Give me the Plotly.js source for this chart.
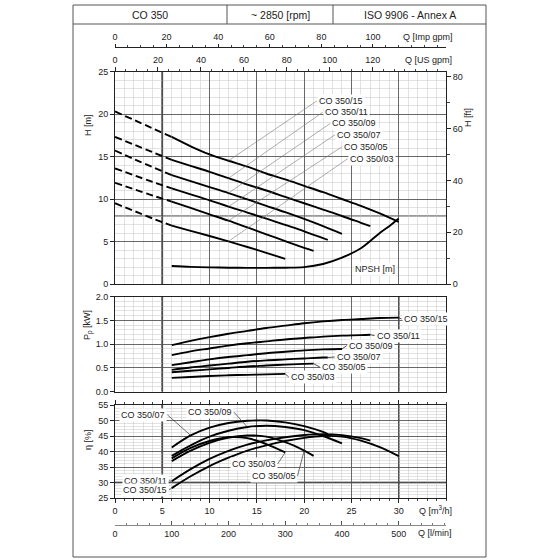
<!DOCTYPE html>
<html>
<head>
<meta charset="utf-8">
<script src="https://cdn.plot.ly/plotly-3.0.1.min.js"></script>
<style>html,body{margin:0;padding:0;background:#fff;}#chart{width:560px;height:560px;}</style>
</head>
<body>
<div id="chart"></div>
<script>
// ---------------- DATA ----------------
const MODELS = ['CO 350/03', 'CO 350/05', 'CO 350/07', 'CO 350/09', 'CO 350/11', 'CO 350/15'];

// Head curves: dashed part near shut-off (Q in m3/h)
const Q_DASH = [0, 2, 4, 6];
const H03_DASH = [9.5, 8.6, 7.7, 6.86];
const H05_DASH = [11.9, 11.15, 10.4, 9.7];
const H07_DASH = [13.6, 12.8, 12.0, 11.25];
const H09_DASH = [15.7, 14.7, 13.75, 12.8];
const H11_DASH = [17.3, 16.4, 15.5, 14.6];
const H15_DASH = [20.3, 19.3, 18.3, 17.3];

// Operating ranges (Q in m3/h)
const Q03 = [6, 8, 10, 12, 14, 16, 18];
const Q05 = [6, 8, 10, 12, 14, 16, 18, 20, 21];
const Q07 = [6, 8, 10, 12, 14, 16, 18, 20, 22, 22.5];
const Q09 = [6, 8, 10, 12, 14, 16, 18, 20, 22, 24];
const Q11 = [6, 8, 10, 12, 14, 16, 18, 20, 22, 24, 26, 27];
const Q15 = [6, 8, 10, 12, 14, 16, 18, 20, 22, 24, 26, 28, 30];

// Head H [m]
const H03 = [6.86, 6.25, 5.65, 5.02, 4.35, 3.67, 2.96];
const H05 = [9.7, 8.95, 8.2, 7.45, 6.65, 5.85, 5.05, 4.25, 3.9];
const H07 = [11.25, 10.55, 9.85, 9.1, 8.4, 7.7, 6.95, 6.2, 5.4, 5.18];
const H09 = [12.8, 12.1, 11.4, 10.7, 9.95, 9.2, 8.45, 7.65, 6.8, 5.9];
const H11 = [14.6, 13.9, 13.2, 12.45, 11.7, 11.0, 10.25, 9.5, 8.75, 8.0, 7.2, 6.8];
const H15 = [17.3, 16.2, 15.25, 14.5, 13.8, 13.0, 12.3, 11.55, 10.8, 10.0, 9.2, 8.3, 7.3];

// NPSH [m]
const Q_NPSH = [6, 8, 10, 12, 14, 16, 18, 20, 22, 24, 26, 28, 29, 30];
const NPSH = [2.12, 2.02, 1.96, 1.92, 1.9, 1.9, 1.92, 1.98, 2.35, 3.1, 4.2, 6.0, 6.8, 7.7];

// Power Pp [kW]
const P03 = [0.29, 0.31, 0.33, 0.345, 0.355, 0.365, 0.375];
const P05 = [0.41, 0.44, 0.47, 0.50, 0.53, 0.55, 0.57, 0.585, 0.59];
const P07 = [0.46, 0.51, 0.55, 0.59, 0.63, 0.66, 0.68, 0.70, 0.72, 0.72];
const P09 = [0.56, 0.62, 0.68, 0.73, 0.77, 0.81, 0.84, 0.87, 0.89, 0.90];
const P11 = [0.77, 0.85, 0.91, 0.97, 1.02, 1.06, 1.10, 1.13, 1.16, 1.18, 1.19, 1.20];
const P15 = [0.98, 1.07, 1.15, 1.22, 1.28, 1.34, 1.39, 1.44, 1.48, 1.51, 1.53, 1.55, 1.56];

// Efficiency eta [%]
const E03 = [37.8, 41.2, 43.4, 44.6, 44.3, 42.4, 39.7];
const E05 = [36.9, 40.3, 42.8, 44.5, 45.2, 44.8, 43.0, 40.3, 38.6];
const E07 = [41.3, 45.2, 47.7, 49.2, 49.9, 50.0, 49.4, 48.2, 46.3, 45.6];
const E09 = [38.6, 42.0, 44.8, 46.7, 47.9, 48.3, 47.9, 46.9, 45.0, 42.6];
const E11 = [30.4, 34.3, 37.6, 40.2, 42.2, 43.6, 44.6, 45.3, 45.6, 45.3, 44.3, 43.5];
const E15 = [28.2, 32.0, 35.3, 38.0, 40.3, 42.0, 43.4, 44.4, 45.0, 44.8, 43.5, 41.4, 38.5];

// Axis ticks
const Q_TICKS = [0, 5, 10, 15, 20, 25, 30];
const USGPM_TICKS = [0, 20, 40, 60, 80, 100, 120];
const IMPGPM_TICKS = [0, 20, 40, 60, 80, 100];
const LMIN_TICKS = [0, 100, 200, 300, 400, 500];
const H_TICKS = [0, 5, 10, 15, 20, 25];
const FT_TICKS = [0, 20, 40, 60, 80];
const P_TICKS = [0, 0.5, 1.0, 1.5, 2.0];
const E_TICKS = [25, 30, 35, 40, 45, 50, 55];

// unit conversions
const M3H_TO_USGPM = 4.40287, M3H_TO_IMPGPM = 3.66615, M3H_TO_LMIN = 1000 / 60, M_TO_FT = 3.28084;
const Q_MAX = 35;

// ---------------- LAYOUT HELPERS ----------------
const W = 560, HGT = 560;
const px = v => v / W;
const py = v => 1 - v / HGT;
const FONT = 'Liberation Sans, Arial, Helvetica, sans-serif';
const TXT = '#222';

const series = [
  {name: MODELS[0], q: Q03, h: H03, hd: H03_DASH, p: P03, e: E03},
  {name: MODELS[1], q: Q05, h: H05, hd: H05_DASH, p: P05, e: E05},
  {name: MODELS[2], q: Q07, h: H07, hd: H07_DASH, p: P07, e: E07},
  {name: MODELS[3], q: Q09, h: H09, hd: H09_DASH, p: P09, e: E09},
  {name: MODELS[4], q: Q11, h: H11, hd: H11_DASH, p: P11, e: E11},
  {name: MODELS[5], q: Q15, h: H15, hd: H15_DASH, p: P15, e: E15}
];
function at(q, v, qq) { const i = q.indexOf(qq); return v[i]; }
function last(a) { return a[a.length - 1]; }

const LW = 1.9;
const traces = [];
series.forEach(s => {
  traces.push({x: Q_DASH, y: s.hd, xaxis: 'x', yaxis: 'y', mode: 'lines', line: {color: '#000', width: LW, dash: '7px,4px', shape: 'spline'}, hoverinfo: 'skip'});
  traces.push({x: s.q, y: s.h, xaxis: 'x', yaxis: 'y', mode: 'lines', line: {color: '#000', width: LW, shape: 'spline'}, hoverinfo: 'skip'});
  traces.push({x: s.q, y: s.p, xaxis: 'x', yaxis: 'y2', mode: 'lines', line: {color: '#000', width: LW, shape: 'spline'}, hoverinfo: 'skip'});
  traces.push({x: s.q, y: s.e, xaxis: 'x', yaxis: 'y3', mode: 'lines', line: {color: '#000', width: LW, shape: 'spline'}, hoverinfo: 'skip'});
});
traces.push({x: Q_NPSH, y: NPSH, xaxis: 'x', yaxis: 'y', mode: 'lines', line: {color: '#000', width: LW, shape: 'spline'}, hoverinfo: 'skip'});
// carriers for the secondary axes
traces.push({x: [null], y: [null], xaxis: 'x2', yaxis: 'y', mode: 'lines', hoverinfo: 'skip'});
traces.push({x: [null], y: [null], xaxis: 'x3', yaxis: 'y', mode: 'lines', hoverinfo: 'skip'});
traces.push({x: [null], y: [null], xaxis: 'x4', yaxis: 'y3', mode: 'lines', hoverinfo: 'skip'});
traces.push({x: [null], y: [null], xaxis: 'x', yaxis: 'y4', mode: 'lines', hoverinfo: 'skip'});

const X_DOM = [px(115), px(446)];
const DOM_H = [py(284), py(71.5)];
const DOM_P = [py(391.7), py(296.7)];
const DOM_E = [py(498), py(405)];

const MAJ = '#4a4a4a', MIN = '#c6c6c6';
const tickF = {family: FONT, size: 9, color: TXT};

function yAx(dom, range, tickvals, minorD, fmt) {
  return {domain: dom, range: range, anchor: 'x', tickmode: 'array', tickvals: tickvals,
    tickformat: fmt || '', ticks: 'outside', ticklen: 4, tickcolor: '#222', tickfont: tickF,
    showline: true, linecolor: '#222', linewidth: 1, mirror: true, zeroline: false,
    showgrid: true, gridcolor: MAJ, gridwidth: 0.8,
    minor: {tickmode: 'linear', tick0: 0, dtick: minorD, showgrid: true, gridcolor: MIN, gridwidth: 0.5}, fixedrange: true};
}

const layout = {
  width: W, height: HGT, margin: {l: 0, r: 0, t: 0, b: 0},
  paper_bgcolor: '#fff', plot_bgcolor: '#fff', showlegend: false,
  font: {family: FONT, size: 9, color: TXT},
  xaxis: {domain: X_DOM, range: [0, Q_MAX], anchor: 'y3', tickmode: 'array', tickvals: Q_TICKS,
    ticks: 'outside', ticklen: 4, tickcolor: '#222', tickfont: tickF,
    showline: true, linecolor: '#222', linewidth: 1, mirror: 'all', zeroline: false,
    showgrid: true, gridcolor: MAJ, gridwidth: 0.8,
    minor: {tickmode: 'linear', tick0: 0, dtick: 1, showgrid: true, gridcolor: MIN, gridwidth: 0.5, ticks: 'outside', ticklen: 2, tickcolor: '#444'}, fixedrange: true},
  xaxis2: {overlaying: 'x', anchor: 'y', side: 'top', range: [0, Q_MAX * M3H_TO_USGPM], tickmode: 'array', tickvals: USGPM_TICKS,
    ticks: 'outside', ticklen: 4, tickcolor: '#222', tickfont: tickF, showgrid: false, zeroline: false, showline: false,
    minor: {tickmode: 'linear', tick0: 0, dtick: 5, ticks: 'outside', ticklen: 2, tickcolor: '#444'}, fixedrange: true},
  xaxis3: {overlaying: 'x', anchor: 'free', position: py(47), side: 'top', range: [0, Q_MAX * M3H_TO_IMPGPM], tickmode: 'array', tickvals: IMPGPM_TICKS,
    ticks: 'outside', ticklen: 3, tickcolor: '#222', tickfont: tickF, showgrid: false, zeroline: false, showline: true, linecolor: '#222', linewidth: 1,
    minor: {tickmode: 'linear', tick0: 0, dtick: 5, ticks: 'outside', ticklen: 2, tickcolor: '#444'}, fixedrange: true},
  xaxis4: {overlaying: 'x', anchor: 'free', position: py(525), side: 'bottom', range: [0, Q_MAX * M3H_TO_LMIN], tickmode: 'array', tickvals: LMIN_TICKS,
    ticks: 'inside', ticklen: 4, tickcolor: '#555', tickfont: tickF, showgrid: false, zeroline: false, showline: true, linecolor: '#888', linewidth: 1,
    minor: {tickmode: 'linear', tick0: 0, dtick: 20, ticks: 'inside', ticklen: 2, tickcolor: '#777'}, fixedrange: true},
  yaxis: yAx(DOM_H, [0, 25], H_TICKS, 1),
  yaxis2: yAx(DOM_P, [0, 2], P_TICKS, 0.1, '.1f'),
  yaxis3: yAx(DOM_E, [25, 55], E_TICKS, 1),
  yaxis4: {overlaying: 'y', anchor: 'x', side: 'right', range: [0, 25 * M_TO_FT], tickmode: 'array', tickvals: FT_TICKS,
    ticks: 'outside', ticklen: 4, tickcolor: '#222', tickfont: tickF, showgrid: false, zeroline: false, showline: true, linecolor: '#222',
    minor: {tickmode: 'linear', tick0: 0, dtick: 10, ticks: 'outside', ticklen: 3, tickcolor: '#444'}, fixedrange: true},
  shapes: [], annotations: []
};

// Frame and header table
const FR = '#555';
layout.shapes.push({type: 'rect', xref: 'paper', yref: 'paper', x0: px(73), x1: px(486), y0: py(557), y1: py(5), line: {color: FR, width: 1}});
layout.shapes.push({type: 'line', xref: 'paper', yref: 'paper', x0: px(73), x1: px(486), y0: py(24), y1: py(24), line: {color: FR, width: 1}});
layout.shapes.push({type: 'line', xref: 'paper', yref: 'paper', x0: px(227), x1: px(227), y0: py(24), y1: py(5), line: {color: FR, width: 1}});
layout.shapes.push({type: 'line', xref: 'paper', yref: 'paper', x0: px(333), x1: px(333), y0: py(24), y1: py(5), line: {color: FR, width: 1}});

// emphasized grid lines (drawn with axis-referenced coordinates)
const PANEL_Y = [['y', 25], ['y2', 2], ['y3', 55]];
const PANEL_Y0 = {y: 0, y2: 0, y3: 25};
PANEL_Y.forEach(([r, top]) => {
  layout.shapes.push({type: 'line', layer: 'below', xref: 'x', yref: r, x0: 5, x1: 5, y0: PANEL_Y0[r], y1: top, line: {color: '#000', width: 1.6}});
});
[['y2', 2], ['y3', 55]].forEach(([r, top]) => {
  layout.shapes.push({type: 'line', layer: 'below', xref: 'x', yref: r, x0: 30, x1: 30, y0: PANEL_Y0[r], y1: top, line: {color: '#000', width: 1.4}});
});
layout.shapes.push({type: 'line', layer: 'below', xref: 'x', yref: 'y', x0: 0, x1: Q_MAX, y0: 8, y1: 8, line: {color: '#333', width: 1}});
layout.shapes.push({type: 'line', layer: 'below', xref: 'x', yref: 'y3', x0: 0, x1: Q_MAX, y0: 30, y1: 30, line: {color: '#000', width: 1.3}});

function ann(o) { layout.annotations.push(Object.assign({font: {family: FONT, size: 9, color: TXT}}, o)); }
function pann(x, y, text, o) {
  ann(Object.assign({xref: 'paper', yref: 'paper', x: px(x), y: py(y), text: text, showarrow: false, xanchor: 'center', yanchor: 'middle'}, o || {}));
}

// header texts
const HF = {family: FONT, size: 10.5, color: TXT};
pann(150, 14.5, 'CO 350', {font: HF});
pann(280, 14.5, '~ 2850 [rpm]', {font: HF});
pann(410, 14.5, 'ISO 9906 - Annex A', {font: HF});

// axis unit labels
pann(455, 37, 'Q [Imp gpm]', {xanchor: 'right'});
pann(454, 60, 'Q [US gpm]', {xanchor: 'right'});
pann(454, 510, 'Q [m<sup>3</sup>/h]', {xanchor: 'right'});
pann(454, 533, 'Q [l/min]', {xanchor: 'right'});
pann(88, 125, 'H [m]', {textangle: -90});
pann(468, 118, 'H [ft]', {textangle: -90});
pann(88, 325, 'P<sub>p</sub> [kW]', {textangle: -90});
pann(88, 440, 'η [%]', {textangle: -90});

// NPSH label
ann({xref: 'x', yref: 'y', x: 27.45, y: 1.76, xanchor: 'center', yanchor: 'middle', text: 'NPSH [m]', showarrow: false, bgcolor: '#fff'});

// Head labels with leader lines (label left-edge positions in axis units)
const H_LABEL_POS = [[24.6, 14.74], [23.97, 16.12], [23.26, 17.56], [22.78, 18.9], [21.96, 20.2], [21.33, 21.53]];
series.forEach((s, i) => {
  ann({xref: 'x', yref: 'y', x: 12, y: at(s.q, s.h, 12), axref: 'x', ayref: 'y', ax: H_LABEL_POS[i][0], ay: H_LABEL_POS[i][1],
    xanchor: 'left', yanchor: 'middle', text: s.name, showarrow: true, arrowhead: 0, arrowwidth: 0.6, arrowcolor: '#777', bgcolor: '#fff', borderpad: 1});
});

// Power labels
const P_LABEL_POS = [[18.37, 0.31], [21.65, 0.52], [23.23, 0.73], [24.5, 0.97], [27.45, 1.18], [30.3, 1.53]];
series.forEach((s, i) => {
  ann({xref: 'x', yref: 'y2', x: last(s.q), y: last(s.p), axref: 'x', ayref: 'y2', ax: P_LABEL_POS[i][0], ay: P_LABEL_POS[i][1],
    xanchor: 'left', yanchor: 'middle', text: s.name, showarrow: true, arrowhead: 0, arrowwidth: 0.8, arrowcolor: '#222', bgcolor: '#fff', borderpad: 1});
});

// Efficiency labels (right-edge positions, leader to curve point)
const E_LABEL = [
  {pos: [17.2, 36.0], q: 18},
  {pos: [19.3, 32.1], q: 20},
  {pos: [5.55, 51.8], q: 8},
  {pos: [12.57, 52.7], q: 14},
  {pos: [5.7, 30.6], q: 6},
  {pos: [5.7, 27.6], q: 6}
];
series.forEach((s, i) => {
  const L = E_LABEL[i];
  ann({xref: 'x', yref: 'y3', x: L.q, y: at(s.q, s.e, L.q), axref: 'x', ayref: 'y3', ax: L.pos[0], ay: L.pos[1],
    xanchor: 'right', yanchor: 'middle', text: s.name, showarrow: true, arrowhead: 0, arrowwidth: 0.7, arrowcolor: '#333', bgcolor: '#fff', borderpad: 1});
});

Plotly.newPlot('chart', traces, layout, {staticPlot: true, displayModeBar: false});
</script>
</body>
</html>
